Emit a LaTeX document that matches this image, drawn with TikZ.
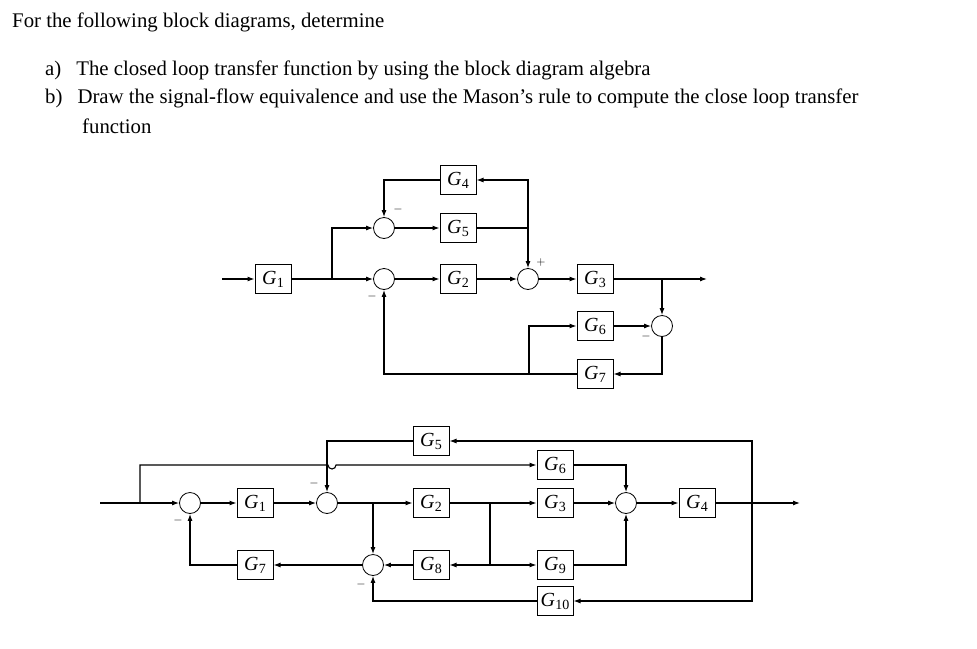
\documentclass[tikz,border=0pt]{standalone}
\usepackage{fontspec}
\setmainfont{Liberation Serif}
\usetikzlibrary{arrows.meta}
\newcommand{\GG}[1]{\textit{G}\kern0.5pt\raisebox{-3pt}{\fontsize{14}{14}\selectfont #1}}
\begin{document}
\begin{tikzpicture}[x=1pt,y=-1pt,
  blk/.style={draw,line width=1pt,minimum width=36pt,minimum height=29pt,inner sep=0pt,font=\fontsize{20}{20}\selectfont},
  sm/.style={draw,circle,line width=0.8pt,minimum size=21pt,inner sep=0pt},
  w/.style={line width=1.1pt},
  a/.style={w,-{Latex[length=7pt,width=5pt]}},
  sg/.style={font=\fontsize{13}{13}\selectfont,inner sep=0pt},
  txt/.style={anchor=west,font=\fontsize{20.8}{20.8}\selectfont,inner sep=0pt}]
\useasboundingbox (0,0) rectangle (977,648);
\node[txt] (t0) at (12,22) {For the following block diagrams, determine};
\node[txt] (t1) at (45,70) {a)\hspace{15pt}The closed loop transfer function by using the block diagram algebra};
\node[txt] (t2) at (45,98) {b)\hspace{15pt}Draw the signal-flow equivalence and use the Mason’s rule to compute the close loop transfer};
\node[txt] (t3) at (82,126) {function};
% top diagram
\coordinate (in1) at (222,279);
\node[blk] (g1) at (273,279) {\GG{1}};
\node[sm] (s1) at (384,228) {};
\node[sm] (s2) at (384,279) {};
\node[blk] (g4) at (458,180) {\GG{4}};
\node[blk] (g5) at (458,228) {\GG{5}};
\node[blk] (g2) at (458,279) {\GG{2}};
\node[sm] (s3) at (528,279) {};
\node[blk] (g3) at (595,279) {\GG{3}};
\node[sm] (s4) at (662,326) {};
\node[blk] (g6) at (595,326) {\GG{6}};
\node[blk] (g7) at (595,374) {\GG{7}};
\coordinate (out1) at (707,279);
\draw[a] (in1) -- (g1);
\draw[a] (g1) -- (s2);
\draw[a] (332,279) |- (s1);
\draw[a] (s1) -- (g5);
\draw[a] (s2) -- (g2);
\draw[a] (g2) -- (s3);
\draw[a] (g5) -| (s3);
\draw[a] (528,228) |- (g4);
\draw[a] (g4) -| (s1);
\draw[a] (s3) -- (g3);
\draw[a] (g3) -- (out1);
\draw[a] (662,279) -- (s4);
\draw[a] (g6) -- (s4);
\draw[a] (s4) |- (g7);
\draw[a] (g7) -| (s2);
\draw[a] (529,374) |- (g6);
\node[sg] (m1) at (398,209) {$-$};
\node[sg] (m2) at (372,296) {$-$};
\node[sg] (p3) at (541,262) {$+$};
\node[sg] (m4) at (646,336) {$-$};
% bottom diagram
\coordinate (in2) at (100,503);
\node[sm] (sa) at (190,503) {};
\node[blk] (h1) at (255,503) {\GG{1}};
\node[sm] (sb) at (327,503) {};
\node[blk] (h2) at (431,503) {\GG{2}};
\node[blk] (h3) at (555,503) {\GG{3}};
\node[sm] (sc) at (626,503) {};
\node[blk] (h4) at (697,503) {\GG{4}};
\coordinate (out2) at (800,503);
\node[blk] (h5) at (431,441) {\GG{5}};
\node[blk] (h6) at (555,465) {\GG{6}};
\node[sm] (sd) at (373,565) {};
\node[blk] (h7) at (255,565) {\GG{7}};
\node[blk] (h8) at (431,565) {\GG{8}};
\node[blk] (h9) at (555,565) {\GG{9}};
\node[blk] (h10) at (555,601) {\GG{10}};
\draw[a] (in2) -- (sa);
\draw[a] (sa) -- (h1);
\draw[a] (h1) -- (sb);
\draw[a] (sb) -- (h2);
\draw[a] (h2) -- (h3);
\draw[a] (h3) -- (sc);
\draw[a] (sc) -- (h4);
\draw[a] (h4) -- (out2);
\draw[a] (140,503) -- (140,465) -- (328,465) arc (180:0:4) -- (h6);
\draw[a] (h6) -| (sc);
\draw[a] (752,503) |- (h5);
\draw[a] (h5) -| (sb);
\draw[a] (752,503) |- (h10);
\draw[a] (h10) -| (sd);
\draw[a] (373,503) -- (sd);
\draw[a] (490,503) |- (h8);
\draw[a] (490,565) -- (h9);
\draw[a] (h8) -- (sd);
\draw[a] (h9) -| (sc);
\draw[a] (sd) -- (h7);
\draw[a] (h7) -| (sa);
\node[sg] (ma) at (178,520) {$-$};
\node[sg] (mb) at (314,483) {$-$};
\node[sg] (md) at (361,584) {$-$};
\end{tikzpicture}
\end{document}
